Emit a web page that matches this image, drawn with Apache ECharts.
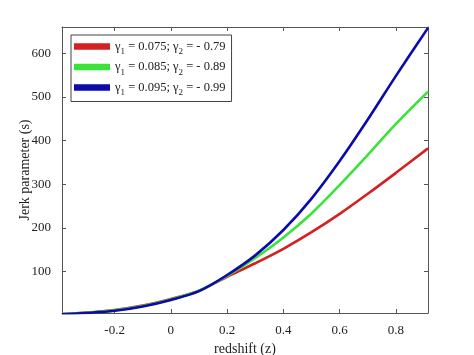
<!DOCTYPE html>
<html>
<head>
<meta charset="utf-8">
<script src="https://cdn.jsdelivr.net/npm/echarts@6/dist/echarts.min.js"></script>
<style>html,body{margin:0;padding:0;background:#fff}#c{width:474px;height:355px}</style>
</head>
<body>
<div id="c"></div>
<script>
var redshift  = [-0.387, -0.3, -0.2, -0.1, 0, 0.1, 0.2, 0.3, 0.4, 0.5, 0.6, 0.7, 0.8, 0.914];
var jerkRed   = [2.5, 6, 12, 22, 37, 56, 88, 119, 152, 190, 232, 278, 326, 382];
var jerkGreen = [2.5, 5.5, 11, 21, 36, 56, 90, 131, 178, 233, 298, 367, 438, 512];
var jerkBlue  = [2, 5, 10, 20, 35, 55, 92, 137, 195, 267, 353, 448, 548, 658];
var seriesNames = ['γ1 = 0.075; γ2 = - 0.79', 'γ1 = 0.085; γ2 = - 0.89', 'γ1 = 0.095; γ2 = - 0.99'];
var legendParts = [['0.075', '0.79'], ['0.085', '0.89'], ['0.095', '0.99']];
var colors = ['#d42020', '#3ae33a', '#0b0baa'];

function pairs(ys) { return redshift.map(function (x, i) { return [x, ys[i]]; }); }

var font = 'Liberation Serif';
var axisCol = '#555';
var chart = echarts.init(document.getElementById('c'));
function axisBase() {
  return {
    axisLine: { show: true, onZero: false, lineStyle: { color: axisCol, width: 1 } },
    axisTick: { show: true, inside: true, length: 4, lineStyle: { color: axisCol } },
    splitLine: { show: false }
  };
}
chart.setOption({
  animation: false,
  backgroundColor: '#fff',
  grid: { left: 62, right: 46, top: 27, bottom: 42, containLabel: false, outerBoundsMode: 'none' },
  legend: {
    left: 71, top: 35, orient: 'vertical',
    backgroundColor: '#fff', borderColor: '#444', borderWidth: 1,
    padding: [5, 6, 4, 3], itemGap: 4, itemWidth: 36, itemHeight: 14,
    data: seriesNames.map(function (n) { return { name: n, icon: 'path://M0,0L1,0L1,0.18L0,0.18Z' }; }),
    formatter: function (name) {
      var i = seriesNames.indexOf(name);
      return '{a|γ}{s|1}{a| = ' + legendParts[i][0] + '; γ}{s|2}{a| = - ' + legendParts[i][1] + '}';
    },
    textStyle: {
      fontFamily: font, color: '#222', fontSize: 12.5,
      rich: {
        a: { fontFamily: font, fontSize: 12.5, color: '#222', verticalAlign: 'middle', lineHeight: 20 },
        s: { fontFamily: font, fontSize: 9, color: '#222', verticalAlign: 'bottom', lineHeight: 9 }
      }
    }
  },
  xAxis: [
    Object.assign(axisBase(), {
      type: 'value', min: -0.387, max: 0.914, minInterval: 0.2, maxInterval: 0.2,
      name: 'redshift (z)', nameLocation: 'middle', nameGap: 29, nameMoveOverlap: false,
      nameTextStyle: { fontFamily: font, fontSize: 14, color: '#222' },
      axisLabel: { fontFamily: font, fontSize: 13, color: '#222', showMinLabel: false, showMaxLabel: false, margin: 11 }
    }),
    Object.assign(axisBase(), {
      type: 'value', position: 'top', min: -0.387, max: 0.914, minInterval: 0.2, maxInterval: 0.2,
      axisLabel: { show: false }
    })
  ],
  yAxis: [
    Object.assign(axisBase(), {
      type: 'value', min: 5, max: 660, minInterval: 100, maxInterval: 100,
      name: 'Jerk parameter (s)', nameLocation: 'middle', nameGap: 30, nameMoveOverlap: false,
      nameTextStyle: { fontFamily: font, fontSize: 14, color: '#222' },
      axisLabel: { fontFamily: font, fontSize: 13, color: '#222', showMinLabel: false, showMaxLabel: false, margin: 11 }
    }),
    Object.assign(axisBase(), {
      type: 'value', position: 'right', min: 5, max: 660, minInterval: 100, maxInterval: 100,
      axisLabel: { show: false }
    })
  ],
  series: [jerkRed, jerkGreen, jerkBlue].map(function (d, i) {
    return {
      type: 'line', name: seriesNames[i], data: pairs(d), smooth: 0.3, symbol: 'none',
      lineStyle: { color: colors[i], width: 2.6 }, itemStyle: { color: colors[i] }
    };
  })
});
</script>
</body>
</html>
